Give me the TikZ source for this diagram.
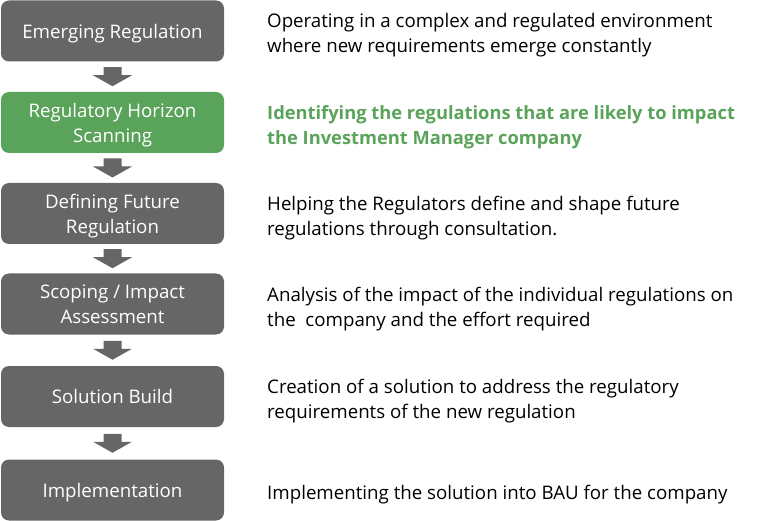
\documentclass[tikz,border=0pt]{standalone}
\usepackage{fontspec}
\setmainfont{Open Sans}
\usetikzlibrary{calc}
\definecolor{boxgray}{HTML}{666666}
\definecolor{boxgreen}{HTML}{5AA35A}
\definecolor{txtgreen}{HTML}{5AA35A}
\tikzset{
  stepbox/.style={fill=boxgray, rounded corners=8pt, minimum width=223pt, minimum height=61pt,
    text=white, align=center, inner sep=0pt, text depth=0pt, font=\fontsize{18.7}{25}\selectfont},
  greenbox/.style={stepbox, fill=boxgreen},
  desc/.style={anchor=west, align=left, inner sep=0pt, font=\fontsize{18.7}{25}\selectfont, text=black},
  descg/.style={desc, text=txtgreen, font=\bfseries\fontsize{18.3}{25}\selectfont},
  arr/.style={fill=boxgray}
}
\begin{document}
\begin{tikzpicture}[x=1pt,y=-1pt]
\useasboundingbox (0,0) rectangle (768,521);
\node[stepbox]  (b1) at (112.5,31)    {Emerging Regulation};
\node[greenbox] (b2) at (112.5,122.5) {Regulatory Horizon\\Scanning};
\node[stepbox]  (b3) at (112.5,213.5) {Defining Future\\Regulation};
\node[stepbox]  (b4) at (112.5,304)   {Scoping / Impact\\Assessment};
\node[stepbox]  (b5) at (112.5,396.5) {Solution Build};
\node[stepbox]  (b6) at (112.5,490)   {Implementation};

\node[desc]  (d1) at (267,35)    {Operating in a complex and regulated environment\\where new requirements emerge constantly};
\node[descg] (d2) at (267,127)   {Identifying the regulations that are likely to impact\\the Investment Manager company};
\node[desc]  (d3) at (267,218)   {Helping the Regulators define and shape future\\regulations through consultation.};
\node[desc]  (d4) at (267,309)   {Analysis of the impact of the individual regulations on\\the\ \ company and the effort required};
\node[desc]  (d5) at (267,401)   {Creation of a solution to address the regulatory\\requirements of the new regulation};
\node[desc]  (d6) at (267,495)   {Implementing the solution into BAU for the company};

\foreach \a/\b in {b1/b2,b2/b3,b3/b4,b4/b5,b5/b6}{
  \fill[arr] ($(\a.south)!0.5!(\b.north)$) ++(-9,-9.5) -- ++(18,0) -- ++(0,8) -- ++(10.5,0)
     -- ++(-19.5,11) -- ++(-19.5,-11) -- ++(10.5,0) -- cycle;
}
\end{tikzpicture}
\end{document}
